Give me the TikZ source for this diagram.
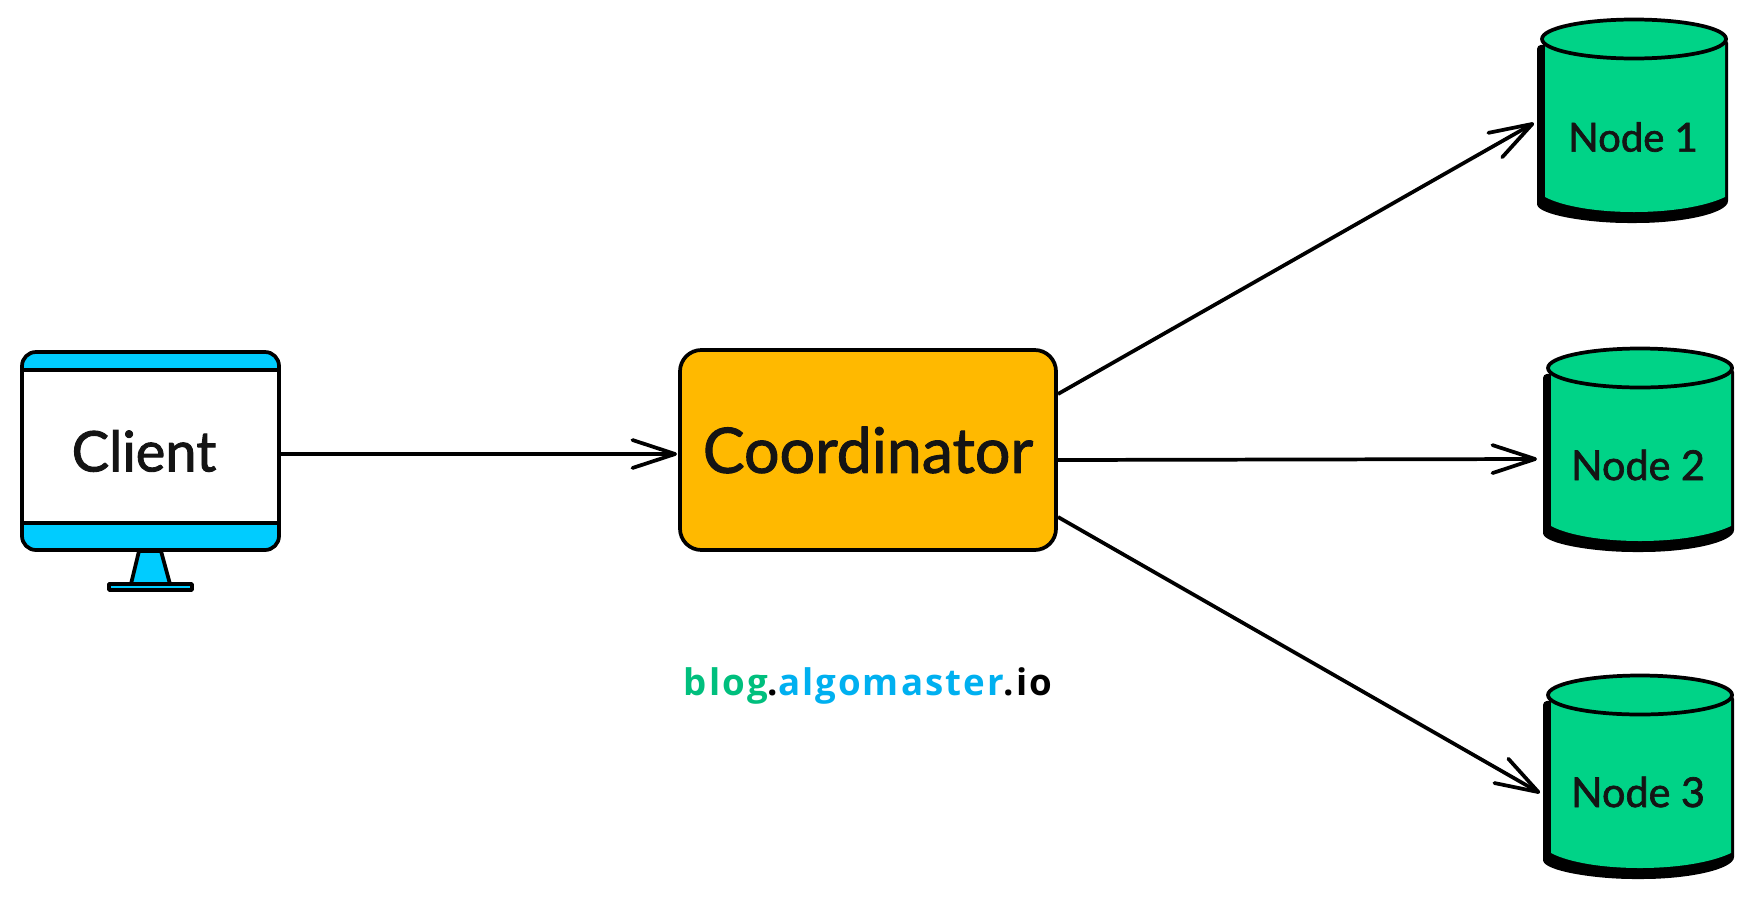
\documentclass[tikz,border=0pt]{standalone}
\usepackage{fontspec}
\usetikzlibrary{arrows.meta}
\setmainfont{Lato}
\newfontfamily\wmfont{Open Sans}[BoldFont={Open Sans Bold},BoldFeatures={LetterSpace=5.5},LetterSpace=5.5]
\newfontfamily\handfont{Lato}[FakeBold=1.6]
\definecolor{cyanfill}{HTML}{00CCFF}
\definecolor{amberfill}{HTML}{FFB900}
\definecolor{greenfill}{HTML}{00D387}
\definecolor{wmgreen}{HTML}{00BF7D}
\definecolor{wmblue}{HTML}{00B0F0}
\definecolor{inkc}{HTML}{141414}
\tikzset{
  x=0.75pt,y=-0.75pt,
  outl/.style={draw=black,line width=2.8pt,line join=round},
  conn/.style={draw=black,line width=2.8pt,-{Straight Barb[length=32pt,width=21pt,line width=2.8pt,round]}},
  hand/.style={inner sep=0pt,text=inkc},
  cyl/.pic={
    \fill[black,rounded corners=3pt] (-97,6) -- (-97,161) .. controls (-97,176) and (-45,184) .. (-2,184) .. controls (50,184) and (94,174) .. (94,158) -- (94,0) -- cycle;
    \fill[greenfill] (-89,0) -- (-89,158) .. controls (-70,168) and (-35,173) .. (0,173) .. controls (35,173) and (70,168) .. (91,158) -- (91,0) -- cycle;
    \draw[black,line width=2.8pt,fill=greenfill] (0,0) ellipse [x radius=92,y radius=19.5];
  }
}
\begin{document}
\begin{tikzpicture}
\useasboundingbox (0,0) rectangle (1752,896);
% client
\fill[cyanfill,rounded corners=10.5pt] (22,352) rectangle (279,550);
\fill[white] (22,370) rectangle (279,523);
\draw[outl,rounded corners=10.5pt] (22,352) rectangle (279,550);
\draw[outl] (22,370) -- (279,370);
\draw[outl] (22,523) -- (279,523);
\draw[outl,fill=cyanfill] (139,551) -- (131,584) -- (170,584) -- (161,551) -- cycle;
\draw[outl,fill=cyanfill] (109,584) rectangle (192,590);
\node[hand,font=\handfont\fontsize{42pt}{42pt}\selectfont] (client) at (144,451) {Client};
\coordinate (clientout) at (281,454);
% coordinator
\node[outl,fill=amberfill,rounded corners=16pt,minimum width=282pt,minimum height=150pt,inner sep=0pt,
  font=\handfont\fontsize{47pt}{47pt}\selectfont,text=inkc] (coord) at (868,450) {\raisebox{-2.5pt}{Coordinator}};
\coordinate (coordin) at (677,454);
\coordinate (coordup) at (1058,394);
\coordinate (coordmid) at (1058,460);
\coordinate (coorddn) at (1058,517);
% cylinders
\pic at (1634,39) {cyl};
\pic at (1640,368) {cyl};
\pic at (1640,695) {cyl};
\node[hand,font=\handfont\fontsize{30pt}{30pt}\selectfont] (node1) at (1633,137) {Node 1};
\node[hand,font=\handfont\fontsize{31pt}{31pt}\selectfont] (node2) at (1638,465) {Node 2};
\node[hand,font=\handfont\fontsize{31pt}{31pt}\selectfont] (node3) at (1638,792) {Node 3};
\coordinate (n1in) at (1534,123);
\coordinate (n2in) at (1537,459);
\coordinate (n3in) at (1540,793);
\draw[conn] (clientout) -- (coordin);
\draw[conn] (coordup) -- (n1in);
\draw[conn] (coordmid) -- (n2in);
\draw[conn] (coorddn) -- (n3in);
% watermark
\node[inner sep=0pt,anchor=base,font=\wmfont\bfseries\fontsize{27.5pt}{28pt}\selectfont] (wm) at (868,695)
 {\textcolor{wmgreen}{blog}\textcolor{black}{.}\textcolor{wmblue}{algomaster}\textcolor{black}{.io}};
\end{tikzpicture}
\end{document}
